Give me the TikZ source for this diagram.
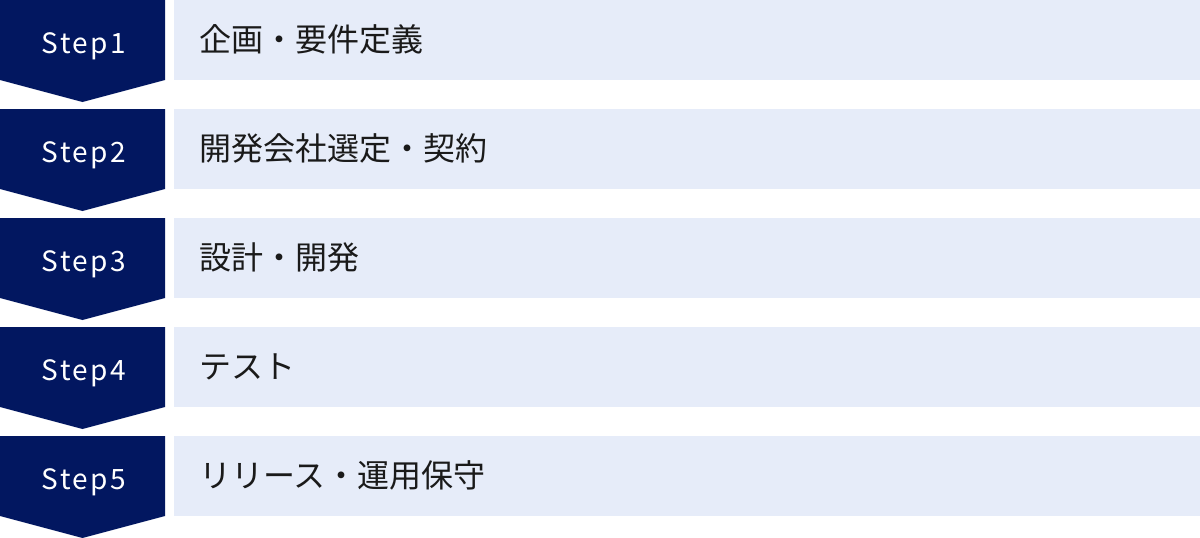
\documentclass[tikz,border=0pt]{standalone}
\usepackage{fontspec}
\usepackage{xcolor}
\usepackage{tikz}
\setmainfont{Noto Sans CJK JP}
\newfontfamily\steptrack[LetterSpace=9]{Noto Sans CJK JP}
\definecolor{stepnavy}{HTML}{021760}
\definecolor{barblue}{HTML}{E6ECF9}
\definecolor{bartext}{HTML}{1A1A1A}

\begin{document}
\begin{tikzpicture}[x=1pt, y=-1pt,
    steplabel/.style={text=white, inner sep=0pt, anchor=base, font=\steptrack\fontsize{28}{28}\selectfont},
    barbox/.style={rectangle, fill=barblue, inner sep=0pt, minimum width=1026pt, minimum height=80pt, anchor=north west},
    bartitle/.style={text=bartext, inner sep=0pt, anchor=base west, font=\fontsize{32}{32}\selectfont}]
            \useasboundingbox (0,0) rectangle (1200,538);
            % Arrows
            \fill[stepnavy] (0,0) -- (165,0) -- (165,80) -- (82.5,102) -- (0,80) -- cycle;
            \fill[stepnavy] (0,109) -- (165,109) -- (165,189) -- (82.5,211) -- (0,189) -- cycle;
            \fill[stepnavy] (0,218) -- (165,218) -- (165,298) -- (82.5,320) -- (0,298) -- cycle;
            \fill[stepnavy] (0,327) -- (165,327) -- (165,407) -- (82.5,429) -- (0,407) -- cycle;
            \fill[stepnavy] (0,436) -- (165,436) -- (165,516) -- (82.5,538) -- (0,516) -- cycle;

            % Nodes
            \node[steplabel] (s1) at (84,53) {Step1};
            \node[steplabel] (s2) at (84,162) {Step2};
            \node[steplabel] (s3) at (84,271) {Step3};
            \node[steplabel] (s4) at (84,380) {Step4};
            \node[steplabel] (s5) at (84,489) {Step5};

            \node[barbox] (b1) at (174,0) {};
            \node[barbox] (b2) at (174,109) {};
            \node[barbox] (b3) at (174,218) {};
            \node[barbox] (b4) at (174,327) {};
            \node[barbox] (b5) at (174,436) {};

            \node[bartitle] (t1) at (199,51) {企画・要件定義};
            \node[bartitle] (t2) at (199,160) {開発会社選定・契約};
            \node[bartitle] (t3) at (199,269) {設計・開発};
            \node[bartitle] (t4) at (199,378) {テスト};
            \node[bartitle] (t5) at (199,487) {リリース・運用保守};
        \end{tikzpicture}
\end{document}
